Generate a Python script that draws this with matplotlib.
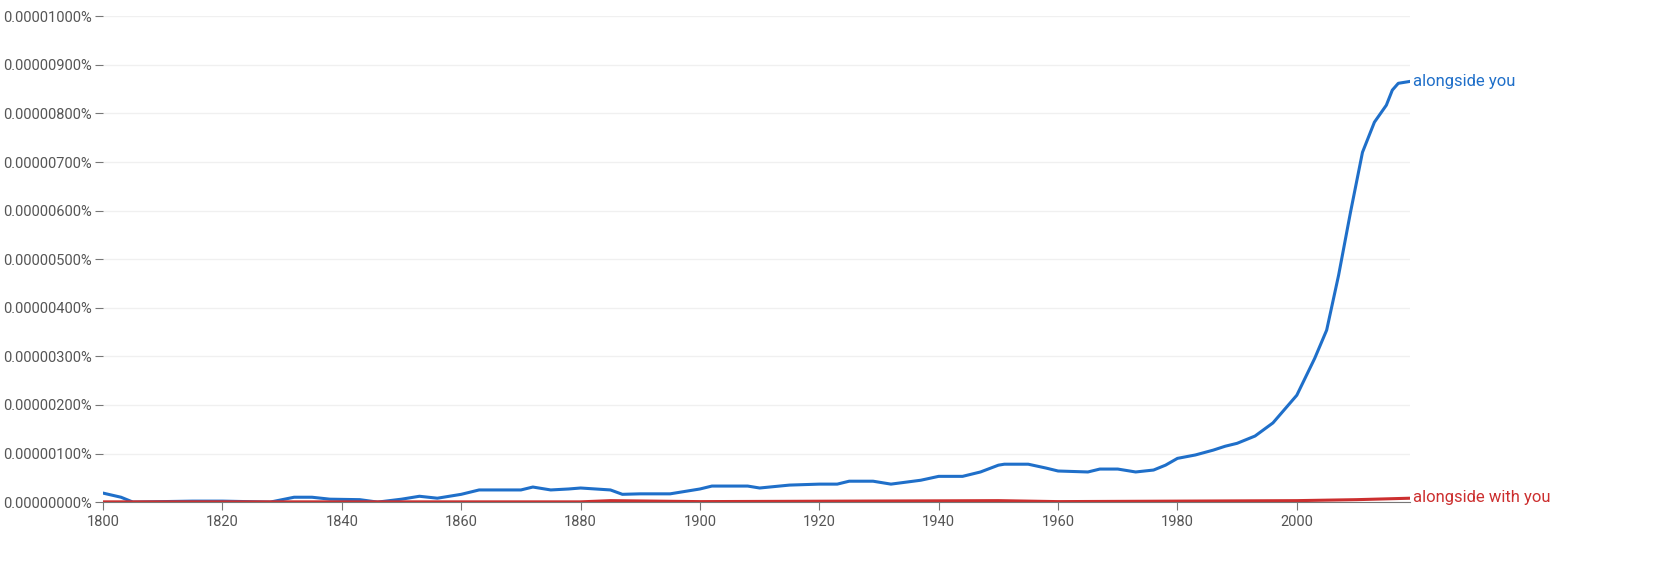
import matplotlib.pyplot as plt
from matplotlib.ticker import FuncFormatter

plt.rcParams['font.family'] = ['Roboto', 'DejaVu Sans']

# values in units of 0.000001 percent
blue_years = [1800, 1803, 1805, 1815, 1820, 1828, 1832, 1835, 1838, 1843, 1846, 1850, 1853, 1856,
              1860, 1863, 1870, 1872, 1875, 1878, 1880, 1885, 1887, 1890, 1895, 1900, 1902, 1908,
              1910, 1915, 1920, 1923, 1925, 1929, 1932, 1937, 1940, 1944, 1947, 1950, 1951, 1955,
              1958, 1960, 1965, 1967, 1970, 1973, 1976, 1978, 1980, 1983, 1986, 1988, 1990, 1993,
              1996, 2000, 2003, 2005, 2007, 2009, 2011, 2013, 2015, 2016, 2017, 2019]
blue_vals = [0.185, 0.10, 0.0, 0.02, 0.02, 0.0, 0.10, 0.10, 0.06, 0.05, 0.0, 0.06, 0.12, 0.08,
             0.16, 0.25, 0.25, 0.31, 0.25, 0.27, 0.29, 0.25, 0.16, 0.17, 0.17, 0.27, 0.33, 0.33,
             0.29, 0.35, 0.37, 0.37, 0.43, 0.43, 0.37, 0.45, 0.53, 0.53, 0.62, 0.76, 0.78, 0.78,
             0.70, 0.64, 0.62, 0.68, 0.68, 0.62, 0.66, 0.76, 0.90, 0.97, 1.07, 1.15, 1.21, 1.36,
             1.63, 2.20, 2.96, 3.54, 4.67, 5.97, 7.20, 7.82, 8.17, 8.48, 8.62, 8.66]
blue_vals = [v * 1e-6 for v in blue_vals]

red_years = [1800, 1850, 1880, 1885, 1900, 1950, 1960, 2000, 2010, 2019]
red_vals = [0.005, 0.005, 0.005, 0.03, 0.01, 0.03, 0.01, 0.03, 0.05, 0.08]
red_vals = [v * 1e-6 for v in red_vals]

fig = plt.figure(figsize=(16.63, 5.61), dpi=100)
ax = fig.add_axes([0.062, 0.105, 0.786, 0.866])

ax.plot(blue_years, blue_vals, color='#1f6fc9', lw=2.2)
ax.plot(red_years, red_vals, color='#cc2f2f', lw=2.2)

ax.set_xlim(1800, 2019)
ax.set_ylim(0, 1e-5)
ax.set_xticks(range(1800, 2020, 20))
ax.set_yticks([i * 1e-6 for i in range(11)])
ax.yaxis.set_major_formatter(FuncFormatter(lambda v, p: f"{v:.8f}%"))
ax.grid(axis='y', color='#f0f0f0', lw=1)
ax.set_axisbelow(True)
for s in ['top', 'right', 'left']:
    ax.spines[s].set_visible(False)
ax.spines['bottom'].set_color('#777777')
ax.tick_params(axis='both', colors='#555555', labelsize=10.5, length=6, color='#777777')
ax.tick_params(axis='y', pad=2)

ax.text(2019.5, blue_vals[-1], 'alongside you', color='#1f6fc9', fontsize=12, va='center', clip_on=False)
ax.text(2019.5, 0.1e-6, 'alongside with you', color='#cc2f2f', fontsize=12, va='center', clip_on=False)

fig.savefig('out.png')
